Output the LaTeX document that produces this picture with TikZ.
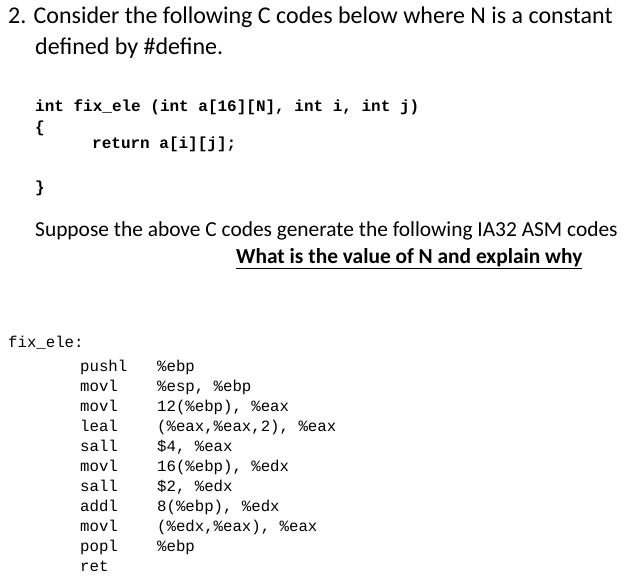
\documentclass[tikz,border=0pt]{standalone}
\usepackage{fontspec}
\setmainfont{Carlito}
\newfontfamily\cour{Liberation Mono}
\begin{document}
\begin{tikzpicture}[x=1pt,y=-1pt,
  tx/.style={anchor=base west,inner sep=0pt,font=\fontsize{24}{28}\selectfont},
  sx/.style={anchor=base west,inner sep=0pt,font=\fontsize{21.4}{25}\selectfont},
  cd/.style={anchor=base west,inner sep=0pt,font=\cour\bfseries\fontsize{16}{18}\selectfont},
  asm/.style={anchor=base west,inner sep=0pt,font=\cour\fontsize{15.7}{18}\selectfont}]
\useasboundingbox (0,0) rectangle (639,588);
\node[tx] (t1) at (8,24) {2. Consider the following C codes below where N is a constant};
\node[tx] (t2) at (35,55) {defined by \#define.};
\node[cd] (c1) at (35,112) {int fix\_ele (int a[16][N], int i, int j)};
\node[cd] (c2) at (35,133) {\{};
\node[cd] (c3) at (92,149) {return a[i][j];};
\node[cd] (c4) at (35,192) {\}};
\node[sx] (s1) at (35,236) {Suppose the above C codes generate the following IA32 ASM codes};
\node[sx] (s2) at (236,263) {\bfseries\underline{What is the value of N and explain why}};
\node[asm] (f) at (8,347) {fix\_ele:};
\foreach \i/\a/\b [count=\k] in {pushl/\%ebp, movl/{\%esp, \%ebp}, movl/{12(\%ebp), \%eax}, leal/{(\%eax,\%eax,2), \%eax}, sall/{\$4, \%eax}, movl/{16(\%ebp), \%edx}, sall/{\$2, \%edx}, addl/{8(\%ebp), \%edx}, movl/{(\%edx,\%eax), \%eax}, popl/\%ebp, ret/{}}{
  \node[asm] (i\k) at (80,351+20*\k) {\i};
  \node[asm] (o\k) at (157,351+20*\k) {\b};
}
\end{tikzpicture}
\end{document}
